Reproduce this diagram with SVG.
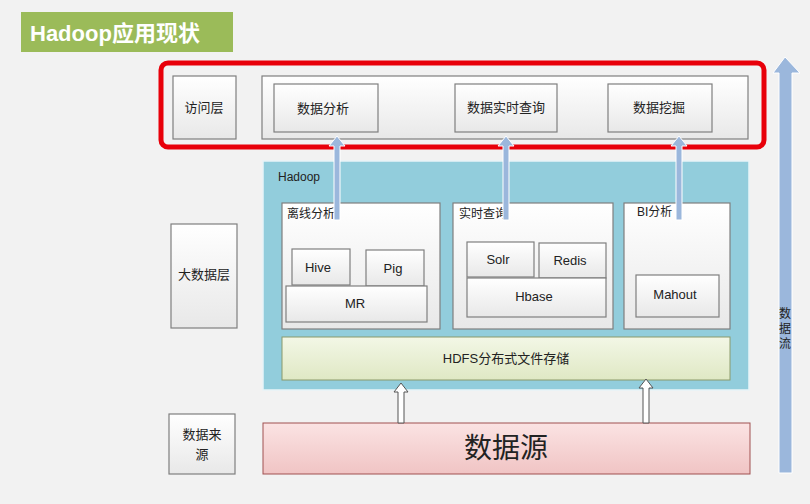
<svg xmlns="http://www.w3.org/2000/svg" width="810" height="504" viewBox="0 0 810 504">
<defs>
<linearGradient id="g" x1="0" y1="0" x2="0" y2="1"><stop offset="0" stop-color="#ffffff"/><stop offset="1" stop-color="#e8e8e8"/></linearGradient>
<linearGradient id="gg" x1="0" y1="0" x2="0" y2="1"><stop offset="0" stop-color="#f3f7e6"/><stop offset="1" stop-color="#dfe8c4"/></linearGradient>
<linearGradient id="gr" x1="0" y1="0" x2="0" y2="1"><stop offset="0" stop-color="#fbe3e3"/><stop offset="1" stop-color="#f0c4c4"/></linearGradient>
<style>
.b{fill:url(#g);stroke:#7f7f7f;stroke-width:1.2}
.t{font-family:"Liberation Sans","Noto Sans CJK SC",sans-serif;font-size:13px;fill:#222;text-anchor:middle}
.l{font-family:"Liberation Sans","Noto Sans CJK SC",sans-serif;font-size:12px;fill:#222}
.ua{fill:#9bb7dc;stroke:#fff;stroke-width:1}
.wa{fill:#fff;stroke:#555;stroke-width:1}
</style>
</defs>
<rect width="810" height="504" fill="#f2f2f2"/>
<g id="title"><rect x="21" y="12" width="212" height="40" fill="#9bbb59"/>
<text x="30" y="41" font-family="Liberation Sans,Noto Sans CJK SC,sans-serif" font-size="22" font-weight="bold" fill="#fff">Hadoop应用现状</text></g>
<g id="hadoop"><rect x="263" y="161" width="486" height="229" fill="#92cddc" stroke="#e8f4f8" stroke-width="1.5"/>
<text class="l" x="278" y="181">Hadoop</text></g>
<g id="offline"><rect class="b" x="282" y="203" width="158" height="126"/><text class="l" x="287" y="218">离线分析</text></g>
<g id="hive"><rect class="b" x="292" y="249" width="58" height="36"/><text class="t" x="318" y="272">Hive</text></g>
<g id="pig"><rect class="b" x="366" y="250" width="58" height="36"/><text class="t" x="393" y="273">Pig</text></g>
<g id="mr"><rect class="b" x="286" y="286" width="141" height="36"/><text class="t" x="355" y="308">MR</text></g>
<g id="realtime"><rect class="b" x="453" y="203" width="160" height="126"/><text class="l" x="459" y="218">实时查询</text></g>
<g id="solr"><rect class="b" x="467" y="242" width="67" height="35"/><text class="t" x="498" y="264">Solr</text></g>
<g id="redis"><rect class="b" x="539" y="243" width="67" height="35"/><text class="t" x="570" y="265">Redis</text></g>
<g id="hbase"><rect class="b" x="467" y="278" width="139" height="39"/><text class="t" x="534" y="301">Hbase</text></g>
<g id="bi"><rect class="b" x="624" y="203" width="106" height="126"/><text class="l" x="637" y="216">BI分析</text></g>
<g id="mahout"><rect class="b" x="636" y="275" width="83" height="42"/><text class="t" x="675" y="299">Mahout</text></g>
<g id="hdfs"><rect x="282" y="337" width="448" height="43" fill="url(#gg)" stroke="#8a9a6a" stroke-width="1"/><text class="t" x="506" y="363">HDFS分布式文件存储</text></g>
<g id="access"><rect class="b" x="173" y="76" width="63" height="63"/><text class="t" x="204" y="112">访问层</text></g>
<g id="accbox"><rect class="b" x="262" y="76" width="486" height="63"/></g>
<g id="da"><rect class="b" x="274" y="84" width="104" height="48"/><text class="t" x="323" y="113">数据分析</text></g>
<g id="rt"><rect class="b" x="455" y="84" width="102" height="48"/><text class="t" x="506" y="112">数据实时查询</text></g>
<g id="dm"><rect class="b" x="608" y="84" width="104" height="48"/><text class="t" x="659" y="112">数据挖掘</text></g>
<rect x="161" y="63" width="603" height="84" rx="7" fill="none" stroke="#e8000a" stroke-width="5"/>
<g id="bigdata"><rect class="b" x="171" y="224" width="66" height="104"/><text class="t" x="204" y="279">大数据层</text></g>
<g id="srcl"><rect class="b" x="169" y="414" width="66" height="60"/><text class="t" x="202" y="439">数据来</text><text class="t" x="202" y="459">源</text></g>
<g id="src"><rect x="263" y="423" width="487" height="51" fill="url(#gr)" stroke="#a05050" stroke-width="1"/>
<text x="506" y="458" font-family="Liberation Sans,Noto Sans CJK SC,sans-serif" font-size="28" fill="#222" text-anchor="middle">数据源</text></g>
<g id="connectors">
<path class="ua" d="M334,220 V146 H329 L337,136 L345,146 H340 V220 Z"/>
<path class="ua" d="M503,220 V146 H498 L506,136 L514,146 H509 V220 Z"/>
<path class="ua" d="M676,220 V146 H671 L679,136 L687,146 H682 V220 Z"/>
<path class="wa" d="M398,423 V392 H394 L401,383 L408,392 H404 V423 Z"/>
<path class="wa" d="M643,423 V388 H639 L646,379 L653,388 H649 V423 Z"/>
<path class="ua" d="M779,473 V73 H773 L785,57 L800,73 H792 V473 Z"/>
<text class="l" x="785" y="318" text-anchor="middle" font-size="11">数</text>
<text class="l" x="785" y="333" text-anchor="middle" font-size="11">据</text>
<text class="l" x="785" y="348" text-anchor="middle" font-size="11">流</text>
</g>
</svg>
